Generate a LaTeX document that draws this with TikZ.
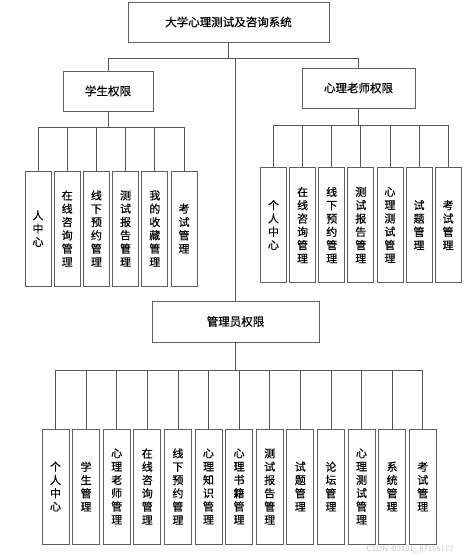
\documentclass[tikz,border=0pt]{standalone}
\usepackage{fontspec}
\newfontfamily\cjk[FakeBold=0.5]{Noto Sans CJK SC}
\definecolor{boxgray}{RGB}{95,95,95}
\definecolor{linegray}{RGB}{85,85,85}
\tikzset{
	box/.style={draw=boxgray, line width=0.8pt, minimum height=40pt, inner sep=0pt, font=\cjk\fontsize{11.5}{13}\selectfont},
	leaf/.style={draw=boxgray, line width=0.8pt, minimum width=26pt, minimum height=115pt, inner sep=0pt, align=center, font=\cjk\fontsize{11}{13.3}\selectfont},
	link/.style={draw=linegray, line width=0.8pt}
}
\begin{document}
\begin{tikzpicture}[x=1pt, y=-1pt]
	\useasboundingbox (0,0) rectangle (474,557);
	%top levels
	\node[box, minimum width=201pt] (root) at (228.5,22) {大学心理测试及咨询系统};
	\node[box, minimum width=90pt] (stu) at (108,91) {学生权限};
	\node[box, minimum width=113pt] (tea) at (358.5,88) {心理老师权限};
	\node[box, minimum width=167pt, minimum height=41pt] (adm) at (235.5,321.5) {管理员权限};
	\draw[link] (root.south) -- ++(0,16) coordinate (rb);
	\draw[link] (stu.north) |- (rb) -| (tea.north);
	\draw[link] (adm.north) -- (adm.north |- rb);
	%student
	\foreach \lab [count=\i] in {{人\\中\\心}, {在\\线\\咨\\询\\管\\理}, {线\\下\\预\\约\\管\\理},
		{测\\试\\报\\告\\管\\理}, {我\\的\\收\\藏\\管\\理}, {考\\试\\管\\理}}
	\node[leaf] (s\i) at ({38+29.2*(\i-1)},228.5) {\lab};
	\foreach \i in {1,...,6}
	\draw[link] (stu.south) -- ++(0,16) -| (s\i.north);
	%teacher
	\foreach \lab [count=\i] in {{个\\人\\中\\心}, {在\\线\\咨\\询\\管\\理}, {线\\下\\预\\约\\管\\理},
		{测\\试\\报\\告\\管\\理}, {心\\理\\测\\试\\管\\理}, {试\\题\\管\\理}, {考\\试\\管\\理}}
	\node[leaf] (t\i) at ({273.5+29.1*(\i-1)},225) {\lab};
	\foreach \i in {1,...,7}
	\draw[link] (tea.south) -- ++(0,17) -| (t\i.north);
	%admin
	\foreach \lab [count=\i] in {{个\\人\\中\\心}, {学\\生\\管\\理}, {心\\理\\老\\师\\管\\理},
		{在\\线\\咨\\询\\管\\理}, {线\\下\\预\\约\\管\\理}, {心\\理\\知\\识\\管\\理},
		{心\\理\\书\\籍\\管\\理}, {测\\试\\报\\告\\管\\理}, {试\\题\\管\\理}, {论\\坛\\管\\理},
		{心\\理\\测\\试\\管\\理}, {系\\统\\管\\理}, {考\\试\\管\\理}}
	\node[leaf, minimum width=27pt] (a\i) at ({55.5+30.6*(\i-1)},486.5) {\lab};
	\foreach \i in {1,...,13}
	\draw[link] (adm.south) -- ++(0,28) -| (a\i.north);
	%watermark
	\node[text=gray!45, font=\sffamily\fontsize{8}{8}\selectfont, anchor=base east] (mark) at (457,551) {CSDN @2401\_87156172};
\end{tikzpicture}
\end{document}
